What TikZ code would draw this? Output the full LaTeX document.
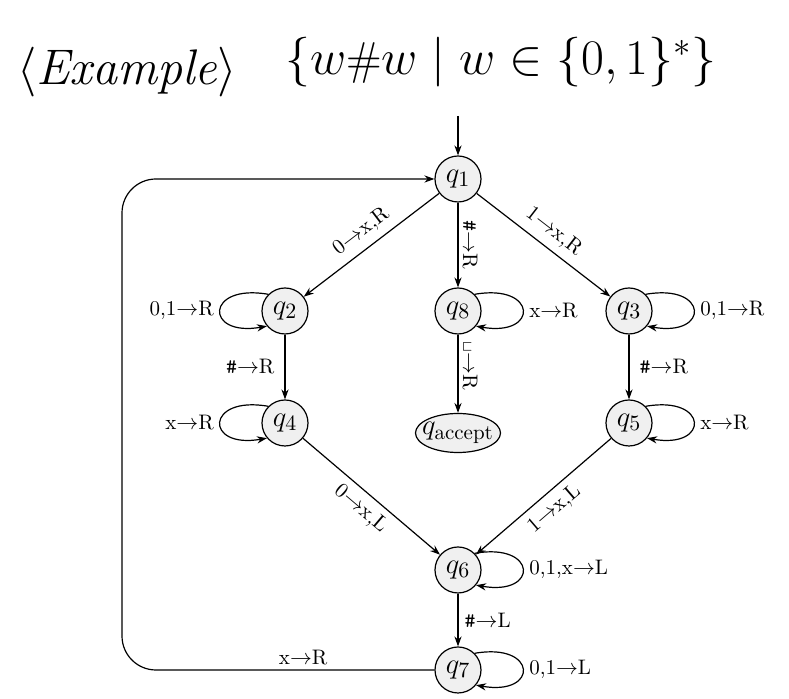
\documentclass[tikz,border=0pt]{standalone}
\usepackage{fontspec}
\usetikzlibrary{arrows.meta,shapes.geometric}
\begin{document}
\begin{tikzpicture}[x=0.5pt,y=-0.5pt,
  st/.style={circle,draw,line width=0.6pt,fill=gray!12,minimum size=23pt,inner sep=0pt,font=\fontsize{15}{17}\selectfont},
  acc/.style={ellipse,draw,line width=0.6pt,fill=gray!12,minimum width=42.5pt,minimum height=19.5pt,inner sep=0pt,font=\fontsize{15}{17}\selectfont},
  edge/.style={draw,line width=0.6pt,-{Stealth[length=5pt,width=3.6pt]}},
  lab/.style={font=\fontsize{10.5}{12}\selectfont,inner sep=2pt},
  titl/.style={inner sep=0pt}]
\useasboundingbox (0,0) rectangle (789,699);
\node[titl] (title) at (127,72) {\fontsize{25}{30}\selectfont$\langle$\textit{Example}$\rangle$};
\node[titl] (set) at (501,62) {\fontsize{23}{28}\selectfont$\{w\#w \mid w\in\{0,1\}^*\}$};

\node[st] (q1) at (458,179) {$q_1$};
\node[st] (q2) at (285,311) {$q_2$};
\node[st] (q8) at (458,311) {$q_8$};
\node[st] (q3) at (629,311) {$q_3$};
\node[st] (q4) at (285,423) {$q_4$};
\node[acc] (qa) at (458,433) {\makebox[20pt]{$q_{\mathrm{accept}}$}};
\node[st] (q5) at (629,423) {$q_5$};
\node[st] (q6) at (458,570) {$q_6$};
\node[st] (q7) at (458,670) {$q_7$};
\coordinate (init) at (458,116);
\coordinate (cb) at (122,670);
\coordinate (ct) at (122,179);

\draw[edge] (init) -- (q1);
\draw[edge] (q1) -- node[lab,above=1.5pt,sloped]{0$\rightarrow$x,R} (q2);
\draw[edge] (q1) -- node[lab,above=1.5pt,sloped]{1$\rightarrow$x,R} (q3);
\draw[edge] (q1) -- node[lab,above,sloped]{\texttt{\#}$\rightarrow$R} (q8);
\draw[edge] (q8) -- node[lab,above,sloped,pos=0.4]{$\scriptstyle\sqcup$$\rightarrow$R} (qa);
\draw[edge] (q2) -- node[lab,left=3pt]{\texttt{\#}$\rightarrow$R} (q4);
\draw[edge] (q3) -- node[lab,right=3pt]{\texttt{\#}$\rightarrow$R} (q5);
\draw[edge] (q4) -- node[lab,below=1.5pt,sloped]{0$\rightarrow$x,L} (q6);
\draw[edge] (q5) -- node[lab,below=1.5pt,sloped]{1$\rightarrow$x,L} (q6);
\draw[edge] (q6) -- node[lab,right=1pt]{\texttt{\#}$\rightarrow$L} (q7);
\draw[edge,rounded corners=17pt] (q7.west) -- node[lab,above,pos=0.42]{x$\rightarrow$R} (cb) -- (ct) -- (q1.west);

\draw[edge] (q2.135) .. controls +(170:32pt) and +(190:32pt) .. (q2.220) node[lab,pos=0.5,left=1pt]{0,1$\rightarrow$R};
\draw[edge] (q4.135) .. controls +(170:32pt) and +(190:32pt) .. (q4.220) node[lab,pos=0.5,left=1pt]{x$\rightarrow$R};
\draw[edge] (q8.45) .. controls +(10:32pt) and +(-10:32pt) .. (q8.-40) node[lab,pos=0.5,right=1pt]{x$\rightarrow$R};
\draw[edge] (q3.45) .. controls +(10:32pt) and +(-10:32pt) .. (q3.-40) node[lab,pos=0.5,right=1pt]{0,1$\rightarrow$R};
\draw[edge] (q5.45) .. controls +(10:32pt) and +(-10:32pt) .. (q5.-40) node[lab,pos=0.5,right=1pt]{x$\rightarrow$R};
\draw[edge] (q6.45) .. controls +(10:32pt) and +(-10:32pt) .. (q6.-40) node[lab,pos=0.5,right=1pt]{0,1,x$\rightarrow$L};
\draw[edge] (q7.45) .. controls +(10:32pt) and +(-10:32pt) .. (q7.-40) node[lab,pos=0.5,right=1pt]{0,1$\rightarrow$L};
\end{tikzpicture}
\end{document}
